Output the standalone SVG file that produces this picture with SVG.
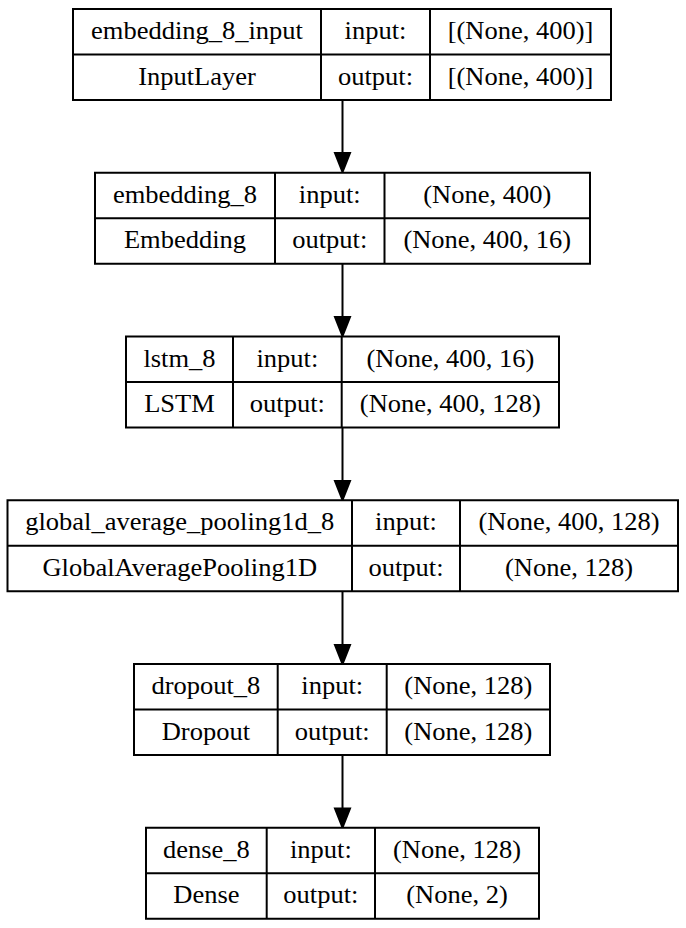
<svg xmlns="http://www.w3.org/2000/svg" width="686" height="928" viewBox="0 0 686 928">
<style>
.box{fill:#fff;stroke:#000;stroke-width:2}
.ln{stroke:#000;stroke-width:2;fill:none}
text{font-family:"Liberation Serif","Times New Roman",serif;font-size:25px;fill:#000;text-anchor:middle}
.edge{stroke:#000;stroke-width:2;fill:none}
.head{fill:#000;stroke:#000;stroke-width:2}
</style>
<rect width="686" height="928" fill="#fff"/>
<g id="connectors">
<line class="edge" x1="342.5" y1="100" x2="342.5" y2="153"/>
<polygon class="head" points="335,153 350,153 342.5,172"/>
<line class="edge" x1="342.5" y1="263.75" x2="342.5" y2="317"/>
<polygon class="head" points="335,317 350,317 342.5,336"/>
<line class="edge" x1="342.5" y1="427.5" x2="342.5" y2="481"/>
<polygon class="head" points="335,481 350,481 342.5,500"/>
<line class="edge" x1="342.5" y1="591.25" x2="342.5" y2="645"/>
<polygon class="head" points="335,645 350,645 342.5,664"/>
<line class="edge" x1="342.5" y1="755" x2="342.5" y2="808.5"/>
<polygon class="head" points="335,808.5 350,808.5 342.5,827.5"/>
</g>
<g id="node1">
<rect class="box" x="73" y="9" width="538" height="91"/>
<line class="ln" x1="73" y1="54.5" x2="611" y2="54.5"/>
<line class="ln" x1="321" y1="9" x2="321" y2="100"/>
<line class="ln" x1="430" y1="9" x2="430" y2="100"/>
<text transform="translate(197 39) scale(1.06 1)">embedding_8_input</text>
<text transform="translate(375.5 39) scale(1.06 1)">input:</text>
<text transform="translate(520.5 39) scale(1.06 1)">[(None, 400)]</text>
<text transform="translate(197 84.5) scale(1.06 1)">InputLayer</text>
<text transform="translate(375.5 84.5) scale(1.06 1)">output:</text>
<text transform="translate(520.5 84.5) scale(1.06 1)">[(None, 400)]</text>
</g>
<g id="node2">
<rect class="box" x="95" y="172.75" width="495" height="91"/>
<line class="ln" x1="95" y1="218.25" x2="590" y2="218.25"/>
<line class="ln" x1="275" y1="172.75" x2="275" y2="263.75"/>
<line class="ln" x1="384.5" y1="172.75" x2="384.5" y2="263.75"/>
<text transform="translate(185 202.75) scale(1.06 1)">embedding_8</text>
<text transform="translate(329.75 202.75) scale(1.06 1)">input:</text>
<text transform="translate(487.25 202.75) scale(1.06 1)">(None, 400)</text>
<text transform="translate(185 248.25) scale(1.06 1)">Embedding</text>
<text transform="translate(329.75 248.25) scale(1.06 1)">output:</text>
<text transform="translate(487.25 248.25) scale(1.06 1)">(None, 400, 16)</text>
</g>
<g id="node3">
<rect class="box" x="126" y="336.5" width="433" height="91"/>
<line class="ln" x1="126" y1="382" x2="559" y2="382"/>
<line class="ln" x1="233" y1="336.5" x2="233" y2="427.5"/>
<line class="ln" x1="341.7" y1="336.5" x2="341.7" y2="427.5"/>
<text transform="translate(179.5 366.5) scale(1.06 1)">lstm_8</text>
<text transform="translate(287.35 366.5) scale(1.06 1)">input:</text>
<text transform="translate(450.35 366.5) scale(1.06 1)">(None, 400, 16)</text>
<text transform="translate(179.5 412) scale(1.06 1)">LSTM</text>
<text transform="translate(287.35 412) scale(1.06 1)">output:</text>
<text transform="translate(450.35 412) scale(1.06 1)">(None, 400, 128)</text>
</g>
<g id="node4">
<rect class="box" x="7.5" y="500.25" width="670.5" height="91"/>
<line class="ln" x1="7.5" y1="545.75" x2="678" y2="545.75"/>
<line class="ln" x1="352" y1="500.25" x2="352" y2="591.25"/>
<line class="ln" x1="460" y1="500.25" x2="460" y2="591.25"/>
<text transform="translate(179.75 530.25) scale(1.06 1)">global_average_pooling1d_8</text>
<text transform="translate(406 530.25) scale(1.06 1)">input:</text>
<text transform="translate(569 530.25) scale(1.06 1)">(None, 400, 128)</text>
<text transform="translate(179.75 575.75) scale(1.06 1)">GlobalAveragePooling1D</text>
<text transform="translate(406 575.75) scale(1.06 1)">output:</text>
<text transform="translate(569 575.75) scale(1.06 1)">(None, 128)</text>
</g>
<g id="node5">
<rect class="box" x="134" y="664" width="416" height="91"/>
<line class="ln" x1="134" y1="709.5" x2="550" y2="709.5"/>
<line class="ln" x1="277.7" y1="664" x2="277.7" y2="755"/>
<line class="ln" x1="386.7" y1="664" x2="386.7" y2="755"/>
<text transform="translate(205.85 694) scale(1.06 1)">dropout_8</text>
<text transform="translate(332.2 694) scale(1.06 1)">input:</text>
<text transform="translate(468.35 694) scale(1.06 1)">(None, 128)</text>
<text transform="translate(205.85 739.5) scale(1.06 1)">Dropout</text>
<text transform="translate(332.2 739.5) scale(1.06 1)">output:</text>
<text transform="translate(468.35 739.5) scale(1.06 1)">(None, 128)</text>
</g>
<g id="node6">
<rect class="box" x="146" y="827.75" width="393" height="91"/>
<line class="ln" x1="146" y1="873.25" x2="539" y2="873.25"/>
<line class="ln" x1="266.7" y1="827.75" x2="266.7" y2="918.75"/>
<line class="ln" x1="375" y1="827.75" x2="375" y2="918.75"/>
<text transform="translate(206.35 857.75) scale(1.06 1)">dense_8</text>
<text transform="translate(320.85 857.75) scale(1.06 1)">input:</text>
<text transform="translate(457 857.75) scale(1.06 1)">(None, 128)</text>
<text transform="translate(206.35 903.25) scale(1.06 1)">Dense</text>
<text transform="translate(320.85 903.25) scale(1.06 1)">output:</text>
<text transform="translate(457 903.25) scale(1.06 1)">(None, 2)</text>
</g>
</svg>
